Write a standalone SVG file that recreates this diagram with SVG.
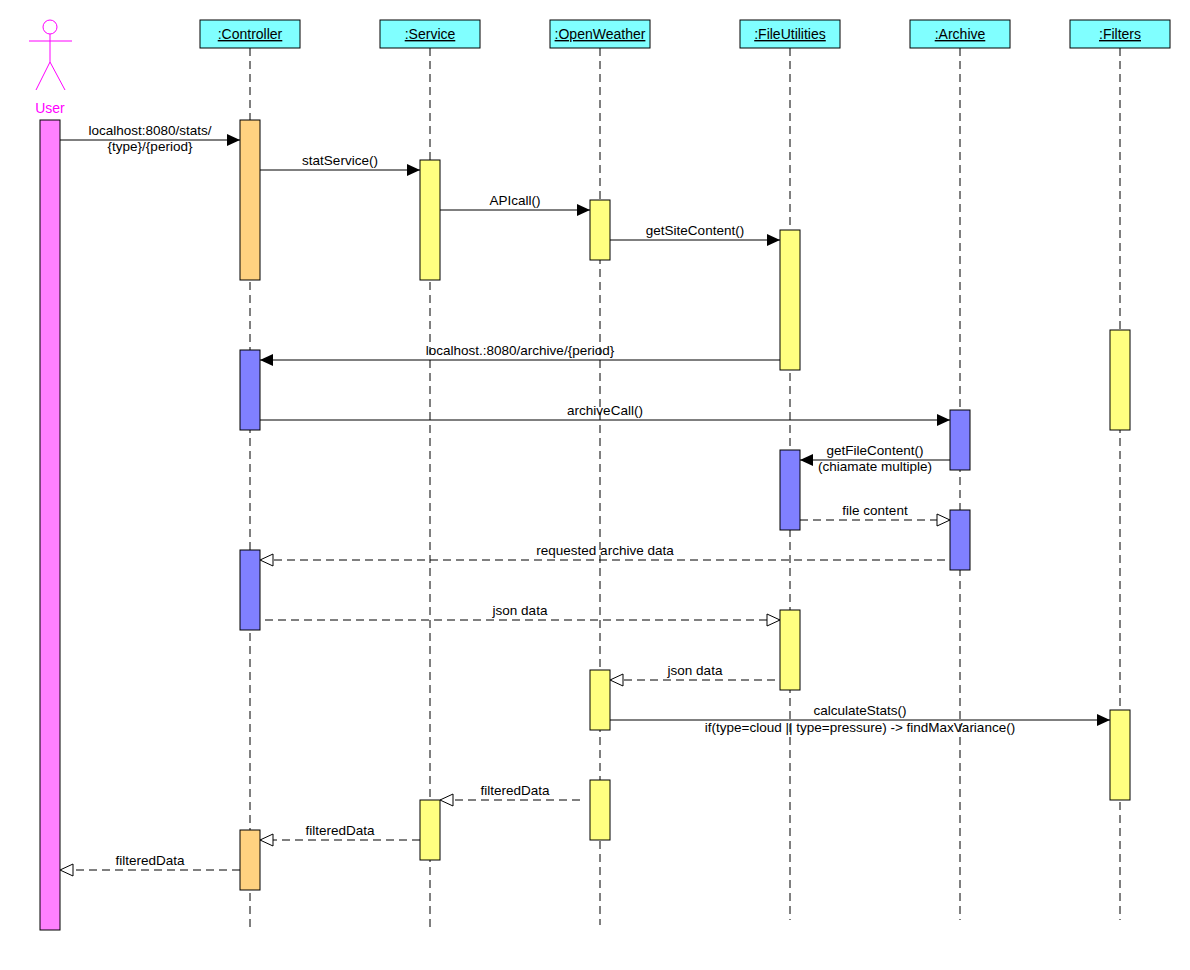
<svg xmlns="http://www.w3.org/2000/svg" width="1190" height="970" viewBox="0 0 1190 970">
<style>
text{font-family:"Liberation Sans",Arial,sans-serif;font-size:13.5px;fill:#000}
.hd{fill:#80FFFF;stroke:#000;stroke-width:1}
.ht{font-size:14px;text-decoration:underline;text-anchor:middle}
.ll{stroke:#000;stroke-dasharray:8,5;fill:none}
.y{fill:#FFFF80;stroke:#000}
.o{fill:#FFD280;stroke:#000}
.b{fill:#8080FF;stroke:#000}
.m{stroke:#000;fill:none}
.d{stroke:#000;fill:none;stroke-dasharray:8,5}
.c{text-anchor:middle}
</style>
<defs>
<marker id="f" markerWidth="14" markerHeight="12" refX="13" refY="6" orient="auto" markerUnits="userSpaceOnUse"><path d="M0,0 L13,6 L0,12 Z" fill="#000"/></marker>
<marker id="o" markerWidth="16" markerHeight="14" refX="14" refY="7" orient="auto" markerUnits="userSpaceOnUse"><path d="M1,1 L14,7 L1,13 Z" fill="#fff" stroke="#000"/></marker>
</defs>
<g id="user">
<circle cx="50" cy="27" r="7" fill="none" stroke="#FF00FF"/>
<path d="M29,41 H72 M50,34 V62 M36,90 L50,62 L65,90" stroke="#FF00FF" fill="none"/>
<text x="50" y="113" class="c" style="fill:#FF00FF;font-size:14px">User</text>
<rect x="40" y="120" width="20" height="810" fill="#FF80FF" stroke="#000"/>
</g>
<g id="controller">
<line class="ll" x1="250" y1="48" x2="250" y2="930"/>
<rect class="hd" x="200" y="20" width="100" height="28"/><text class="ht" x="250" y="39">:Controller</text>
<rect class="o" x="240" y="120" width="20" height="160"/>
<rect class="b" x="240" y="350" width="20" height="80"/>
<rect class="b" x="240" y="550" width="20" height="80"/>
<rect class="o" x="240" y="830" width="20" height="60"/>
</g>
<g id="service">
<line class="ll" x1="430" y1="48" x2="430" y2="930"/>
<rect class="hd" x="380" y="20" width="100" height="28"/><text class="ht" x="430" y="39">:Service</text>
<rect class="y" x="420" y="160" width="20" height="120"/>
<rect class="y" x="420" y="800" width="20" height="60"/>
</g>
<g id="openweather">
<line class="ll" x1="600" y1="48" x2="600" y2="925"/>
<rect class="hd" x="550" y="20" width="100" height="28"/><text class="ht" x="600" y="39">:OpenWeather</text>
<rect class="y" x="590" y="200" width="20" height="60"/>
<rect class="y" x="590" y="670" width="20" height="60"/>
<rect class="y" x="590" y="780" width="20" height="60"/>
</g>
<g id="fileutilities">
<line class="ll" x1="790" y1="48" x2="790" y2="920"/>
<rect class="hd" x="740" y="20" width="100" height="28"/><text class="ht" x="790" y="39">:FileUtilities</text>
<rect class="y" x="780" y="230" width="20" height="140"/>
<rect class="b" x="780" y="450" width="20" height="80"/>
<rect class="y" x="780" y="610" width="20" height="80"/>
</g>
<g id="archive">
<line class="ll" x1="960" y1="48" x2="960" y2="920"/>
<rect class="hd" x="910" y="20" width="100" height="28"/><text class="ht" x="960" y="39">:Archive</text>
<rect class="b" x="950" y="410" width="20" height="60"/>
<rect class="b" x="950" y="510" width="20" height="60"/>
</g>
<g id="filters">
<line class="ll" x1="1120" y1="48" x2="1120" y2="920"/>
<rect class="hd" x="1070" y="20" width="100" height="28"/><text class="ht" x="1120" y="39">:Filters</text>
<rect class="y" x="1110" y="330" width="20" height="100"/>
<rect class="y" x="1110" y="710" width="20" height="90"/>
</g>
<g id="connectors">
<line class="m" x1="60" y1="140" x2="240" y2="140" marker-end="url(#f)"/>
<text class="c" x="150" y="135">localhost:8080/stats/</text><text class="c" x="150" y="151">{type}/{period}</text>
<line class="m" x1="260" y1="170" x2="420" y2="170" marker-end="url(#f)"/>
<text class="c" x="340" y="165">statService()</text>
<line class="m" x1="440" y1="210" x2="590" y2="210" marker-end="url(#f)"/>
<text class="c" x="515" y="205">APIcall()</text>
<line class="m" x1="610" y1="240" x2="780" y2="240" marker-end="url(#f)"/>
<text class="c" x="695" y="235">getSiteContent()</text>
<line class="m" x1="780" y1="360" x2="260" y2="360" marker-end="url(#f)"/>
<text class="c" x="520" y="355">localhost.:8080/archive/{period}</text>
<line class="m" x1="260" y1="420" x2="950" y2="420" marker-end="url(#f)"/>
<text class="c" x="605" y="415">archiveCall()</text>
<line class="m" x1="950" y1="460" x2="800" y2="460" marker-end="url(#f)"/>
<text class="c" x="875" y="455">getFileContent()</text><text class="c" x="875" y="471">(chiamate multiple)</text>
<line class="d" x1="800" y1="520" x2="950" y2="520" marker-end="url(#o)"/>
<text class="c" x="875" y="515">file content</text>
<line class="d" x1="945" y1="560" x2="260" y2="560" marker-end="url(#o)"/>
<text class="c" x="605" y="555">requested archive data</text>
<line class="d" x1="265" y1="620" x2="780" y2="620" marker-end="url(#o)"/>
<text class="c" x="520" y="615">json data</text>
<line class="d" x1="775" y1="680" x2="610" y2="680" marker-end="url(#o)"/>
<text class="c" x="695" y="675">json data</text>
<line class="m" x1="610" y1="720" x2="1110" y2="720" marker-end="url(#f)"/>
<text class="c" x="860" y="715">calculateStats()</text><text class="c" x="860" y="732">if(type=cloud || type=pressure) -&gt; findMaxVariance()</text>
<line class="d" x1="580" y1="800" x2="440" y2="800" marker-end="url(#o)"/>
<text class="c" x="515" y="795">filteredData</text>
<line class="d" x1="420" y1="840" x2="260" y2="840" marker-end="url(#o)"/>
<text class="c" x="340" y="835">filteredData</text>
<line class="d" x1="240" y1="870" x2="60" y2="870" marker-end="url(#o)"/>
<text class="c" x="150" y="865">filteredData</text>
</g>
</svg>
